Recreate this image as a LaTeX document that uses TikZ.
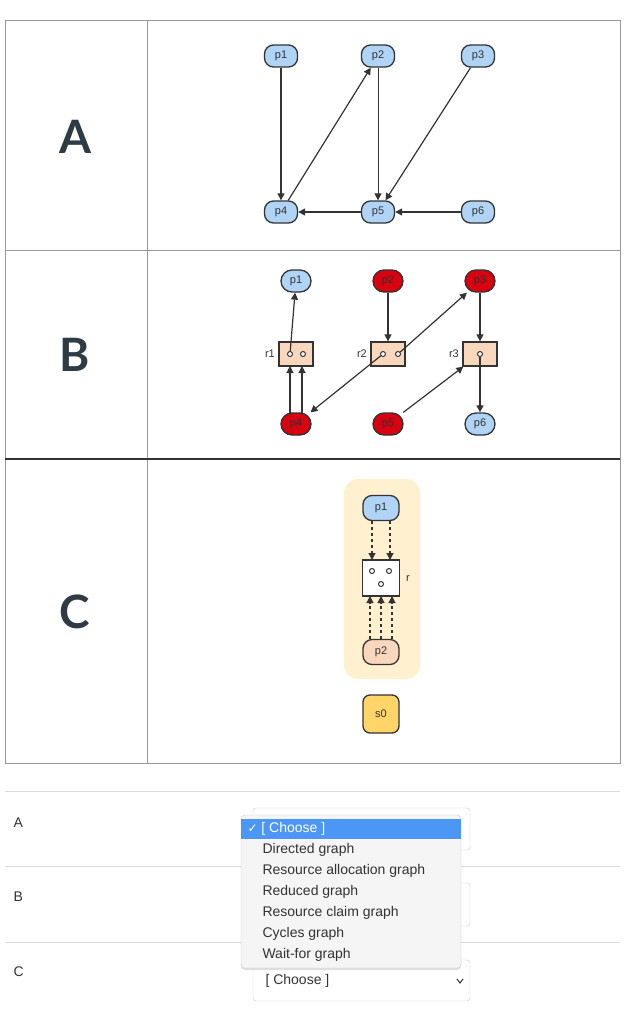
\documentclass[tikz,border=0pt]{standalone}
\usepackage{fontspec}
\setmainfont{Liberation Sans}
\newfontfamily\latofont{Lato}
\usetikzlibrary{arrows.meta,shadows}
\definecolor{pblue}{HTML}{B0D4F5}
\definecolor{pred}{HTML}{D9000F}
\definecolor{rfill}{HTML}{F8D7BC}
\definecolor{bgc}{HTML}{FFF0D0}
\definecolor{sfill}{HTML}{FFD56A}
\definecolor{ink}{HTML}{333333}
\definecolor{hdr}{HTML}{2D3B45}
\definecolor{sel}{HTML}{4C97F5}
\begin{document}
\begin{tikzpicture}[x=1pt,y=-1pt,
  proc/.style={draw=ink,line width=1.3pt,rounded corners=9pt,minimum width=33pt,minimum height=22pt,inner sep=0pt,font=\fontsize{11}{12}\selectfont,text=ink},
  pb/.style={proc,fill=pblue},
  pr/.style={proc,fill=pred},
  res/.style={draw=ink,line width=1.3pt,fill=rfill,minimum width=34pt,minimum height=24pt,inner sep=0pt},
  ar/.style={draw=ink,line width=1.2pt,-{Triangle[length=7pt,width=7pt]}},
  dot/.style={circle,draw=ink,line width=1pt,fill=white,inner sep=0pt,minimum size=5pt},
  big/.style={font=\latofont\bfseries\fontsize{46}{48}\selectfont,text=hdr},
  sm/.style={font=\fontsize{14}{16}\selectfont,text=ink,anchor=west}]
\useasboundingbox (0,0) rectangle (627,1015);
% table
\draw[gray!80,line width=0.8pt] (5,20) rectangle (620,763) (147,20) -- (147,763) (5,250) -- (620,250);
\draw[ink,line width=1.2pt] (5,459) -- (620,459);
\node[big] (LA) at (75,137) {A};
\node[big] (LB) at (75,355) {B};
\node[big] (LC) at (75,612) {C};
% A
\node[pb] (a1) at (281,56) {p1};
\node[pb] (a2) at (378,56) {p2};
\node[pb] (a3) at (478,56) {p3};
\node[pb] (a4) at (281,212) {p4};
\node[pb] (a5) at (378,212) {p5};
\node[pb] (a6) at (478,212) {p6};
\draw[ar] (a1) -- (a4);
\draw[ar] (a4) -- (a2);
\draw[ar,line width=0.8pt] (a2) -- (a5);
\draw[ar] (a3) -- (a5);
\draw[ar] (a5) -- (a4);
\draw[ar] (a6) -- (a5);
% B
\node[pb,minimum width=30pt,rounded corners=11pt] (b1) at (296,281) {p1};
\node[pr,minimum width=30pt,rounded corners=11pt] (b2) at (388,281) {p2};
\node[pr,minimum width=30pt,rounded corners=11pt] (b3) at (480,281) {p3};
\node[pr,minimum width=30pt,rounded corners=11pt] (b4) at (296,424) {p4};
\node[pr,minimum width=30pt,rounded corners=11pt] (b5) at (388,424) {p5};
\node[pb,minimum width=30pt,rounded corners=11pt] (b6) at (480,424) {p6};
\node[res] (r1) at (296,354) {};
\node[res] (r2) at (388,354) {};
\node[res] (r3) at (480,354) {};
\node[anchor=east,font=\fontsize{11}{12}\selectfont,text=ink] (l1) at (r1.west) {r1};
\node[anchor=east,font=\fontsize{11}{12}\selectfont,text=ink] (l2) at (r2.west) {r2};
\node[anchor=east,font=\fontsize{11}{12}\selectfont,text=ink] (l3) at (r3.west) {r3};
\coordinate (p4a) at (290,413); \coordinate (p4b) at (302,413);
\coordinate (r1a) at (290,366); \coordinate (r1b) at (302,366);
\draw[ar] (p4a) -- (r1a);
\draw[ar] (p4b) -- (r1b);
\node[dot] (d11) at (290,354) {};
\node[dot] (d12) at (303,354) {};
\node[dot] (d21) at (383,354) {};
\node[dot] (d22) at (398,354) {};
\node[dot] (d31) at (480,354) {};
\draw[ar] (d11) -- (b1);
\draw[ar] (b2) -- (r2);
\draw[ar] (d22) -- (b3);
\draw[ar] (d21) -- (b4);
\draw[ar] (b3) -- (r3);
\draw[ar] (d31) -- (b6);
\draw[ar] (b5) -- (r3);
% C
\node[fill=bgc,rounded corners=14pt,minimum width=76pt,minimum height=200pt] (bg) at (382,579) {};
\node[pb,minimum width=36pt,minimum height=25pt] (c1) at (381,508) {p1};
\node[proc,fill=rfill,minimum width=36pt,minimum height=25pt] (c2) at (381,652) {p2};
\node[draw=ink,line width=1.5pt,fill=white,minimum width=37pt,minimum height=36pt,inner sep=0pt] (cr) at (381,578) {};
\node[font=\fontsize{11}{12}\selectfont,text=ink] (crl) at (408,579) {r};
\node[dot] (e1) at (372,571) {};
\node[dot] (e2) at (389,571) {};
\node[dot] (e3) at (381,584) {};
\node[proc,fill=sfill,rounded corners=7pt,minimum width=36pt,minimum height=38pt] (s0) at (381,714) {s0};
\foreach \x in {372,390} \draw[ar,dashed] (\x,521) -- (\x,560);
\foreach \x in {370,381,392} \draw[ar,dashed] (\x,639) -- (\x,596);
% bottom form
\draw[gray!30,line width=0.8pt] (5,791) -- (620,791) (5,866) -- (620,866) (5,942) -- (620,942);
\node[sm] (fa) at (10,823) {A};
\node[sm] (fb) at (10,897) {B};
\node[sm] (fc) at (10,972) {C};
\foreach \ya/\yb in {808/850,883/926,960/1001}
  \draw[gray!40,rounded corners=3pt,fill=white] (253,\ya) rectangle (470,\yb);
\node[sm] (fcs) at (262,981) {[ Choose ]};
\draw[ink,line width=1pt] (457,979) -- (460,983) -- (463,979);
\node[draw=gray!40,fill=gray!8,rounded corners=4pt,drop shadow={opacity=0.25,shadow xshift=0pt,shadow yshift=-2pt},minimum width=220pt,minimum height=153pt] (dd) at (351,891.5) {};
\fill[sel] (241,819) rectangle (461,839);
\node[sm,text=white] (o0) at (244,829) {\fontspec{DejaVu Sans}\fontsize{12}{14}\selectfont ✓\ \fontspec{Liberation Sans}\fontsize{14}{16}\selectfont[ Choose ]};
\node[sm] (o1) at (259,850) {Directed graph};
\node[sm] (o2) at (259,871) {Resource allocation graph};
\node[sm] (o3) at (259,892) {Reduced graph};
\node[sm] (o4) at (259,913) {Resource claim graph};
\node[sm] (o5) at (259,934) {Cycles graph};
\node[sm] (o6) at (259,955) {Wait-for graph};
\end{tikzpicture}
\end{document}
